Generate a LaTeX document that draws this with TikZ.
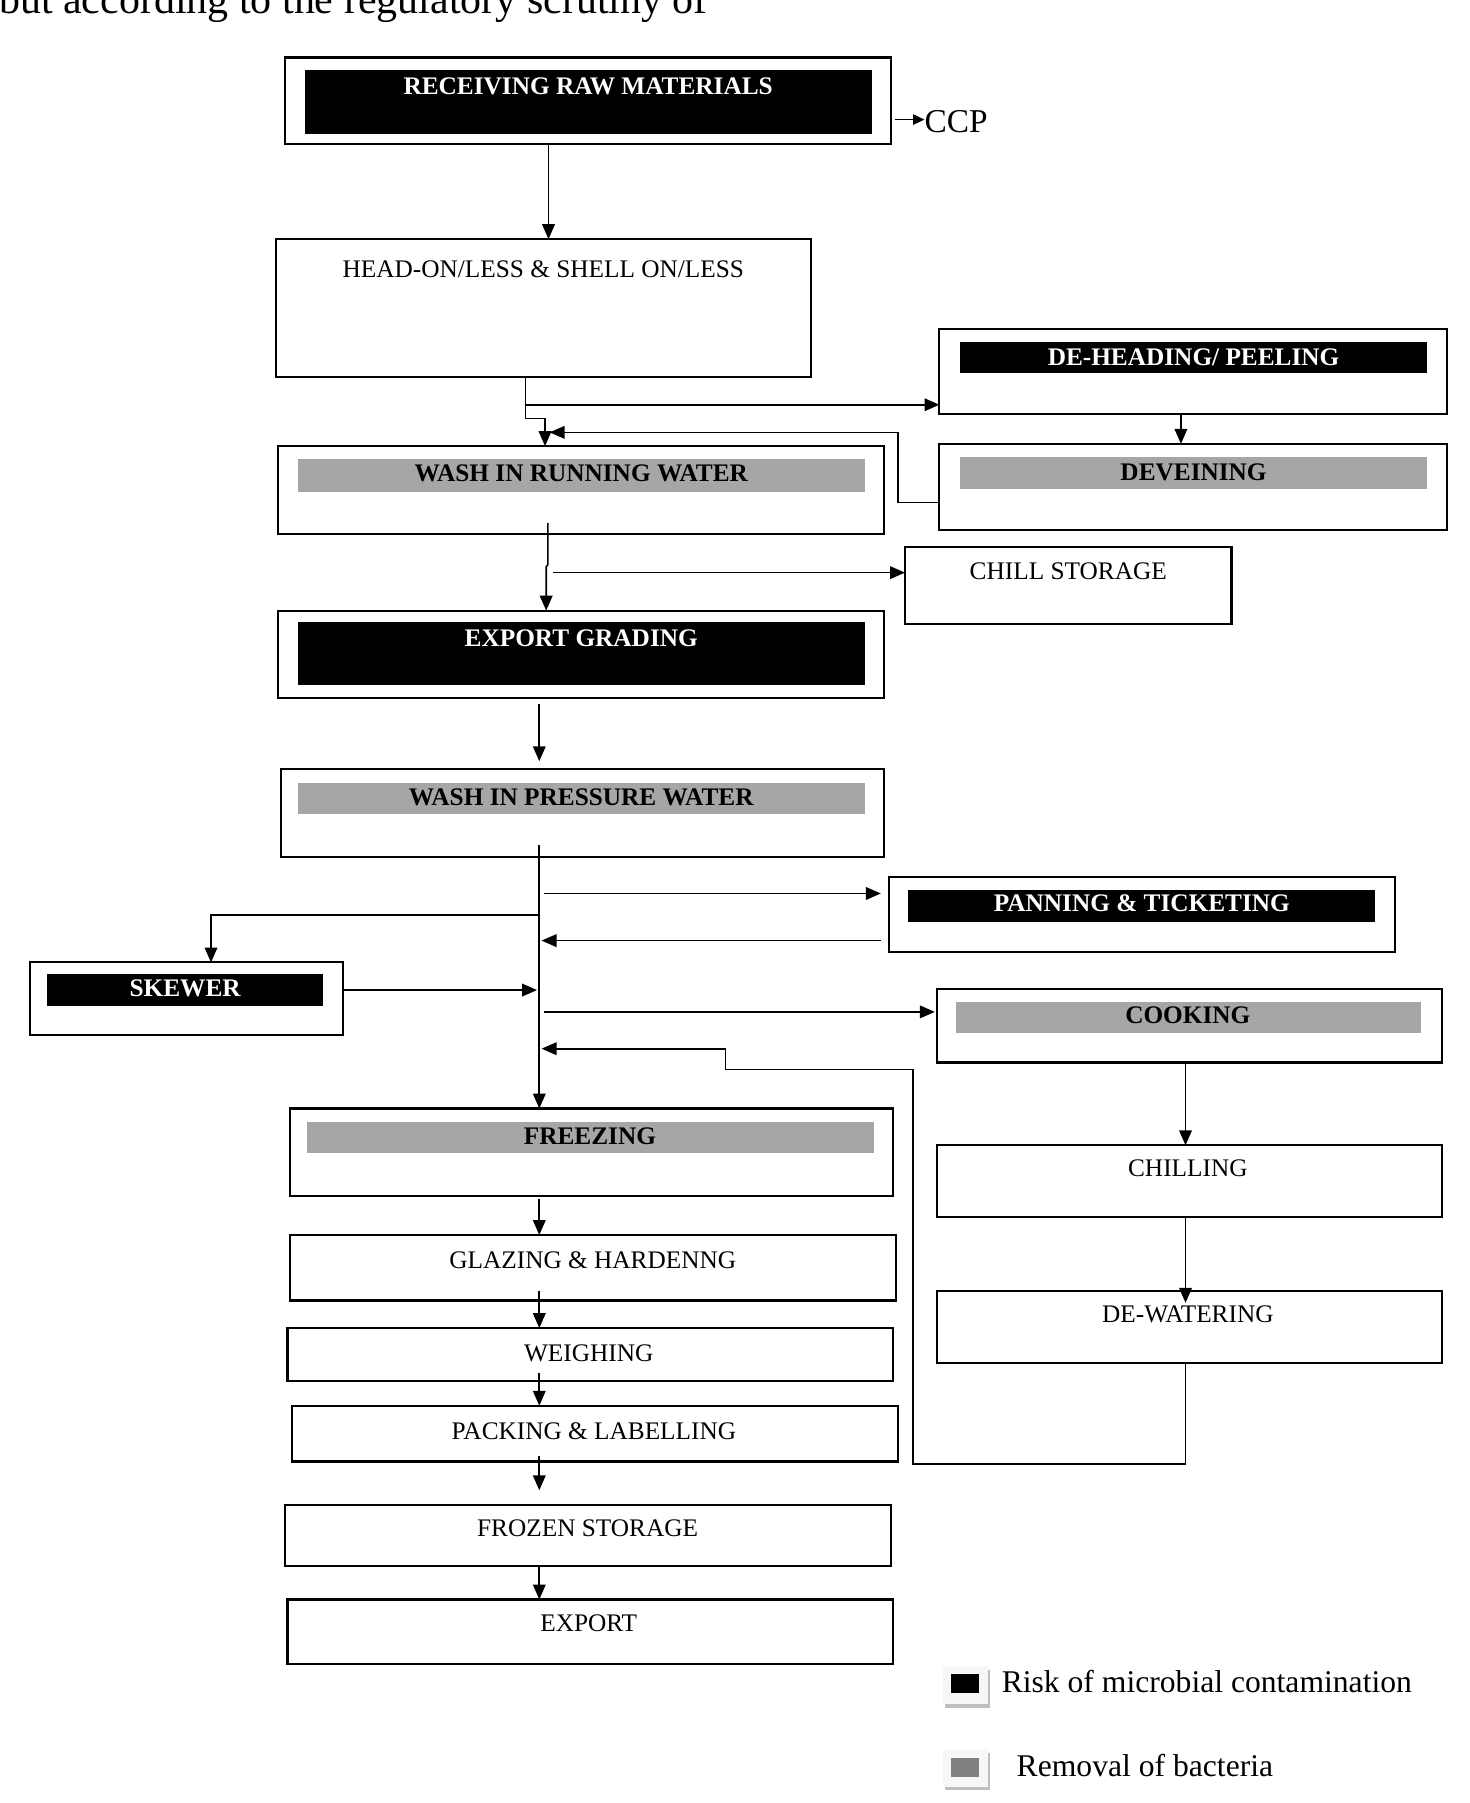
\documentclass[tikz,border=0pt]{standalone}
\usepackage{fontspec}
\setmainfont{Liberation Serif}
\usetikzlibrary{arrows.meta,calc}
\definecolor{bandg}{RGB}{166,166,166}
\definecolor{leggray}{RGB}{128,128,128}
\newcommand{\lblfont}{\fontsize{22}{26}\selectfont}
\newcommand{\procnode}[6]{%
  \pgfmathsetmacro{\pncx}{(#2+#4)/2}%
  \pgfmathsetmacro{\pncy}{(#3+#5)/2}%
  \pgfmathsetmacro{\pnw}{#4-#2}%
  \pgfmathsetmacro{\pnh}{#5-#3}%
  \node[#6, minimum width=\pnw pt, minimum height=\pnh pt] (#1) at (\pncx,\pncy) {};}
\tikzset{
  procbox/.style={rectangle, draw=black, line width=1.8pt, fill=white, inner sep=0pt, outer sep=0pt},
  bandk/.style={rectangle, fill=black, inner sep=0pt, outer sep=0pt},
  bandgr/.style={rectangle, fill=bandg, inner sep=0pt, outer sep=0pt},
  legshadow/.style={rectangle, fill=gray!50, inner sep=0pt, outer sep=0pt},
  legframe/.style={rectangle, fill=gray!6, inner sep=0pt, outer sep=0pt},
  legk/.style={rectangle, fill=black, inner sep=0pt, outer sep=0pt},
  legg/.style={rectangle, fill=leggray, inner sep=0pt, outer sep=0pt},
  lblw/.style={font=\lblfont\bfseries, text=white, inner sep=0pt, anchor=base},
  lblb/.style={font=\lblfont\bfseries, text=black, inner sep=0pt, anchor=base},
  lbln/.style={font=\lblfont, text=black, inner sep=0pt, anchor=base},
  arr/.style={line width=1.4pt, -{Triangle[length=13pt,width=11pt]}},
  smallarr/.style={line width=1.4pt, -{Triangle[length=10pt,width=9pt]}},
}
\begin{document}
\begin{tikzpicture}[x=1pt,y=-1pt]
\useasboundingbox (0,0) rectangle (1278,1568);

% page text fragment at the top (cut by the page edge, as in the source)
\node[anchor=base west, font=\fontsize{36.5}{40}\selectfont, inner sep=0pt] (toptxt) at (-1,12) {but according to the regulatory scrutiny of};

% ---------- boxes ----------
\procnode{rrm}{248}{50}{775}{125}{procbox}
\procnode{rrmband}{265}{61}{758}{116.5}{bandk}
\node[lblw] (rrmtxt) at (511.5,82) {RECEIVING RAW MATERIALS};
\node[anchor=base west, font=\fontsize{29}{34}\selectfont, inner sep=0pt] (ccp) at (804,115) {CCP};

\procnode{head}{240}{208}{705}{328}{procbox}
\node[lbln] (headtxt) at (472.5,241) {HEAD-ON/LESS \& SHELL ON/LESS};

\procnode{dehead}{817}{286}{1258}{360}{procbox}
\procnode{deheadband}{835}{297}{1241}{324}{bandk}
\node[lblw] (deheadtxt) at (1038,317.5) {DE-HEADING/ PEELING};

\procnode{devein}{817}{386}{1258}{461}{procbox}
\procnode{deveinband}{835}{397}{1241}{425}{bandgr}
\node[lblb] (deveintxt) at (1038,417.5) {DEVEINING};

\procnode{washr}{242}{388}{769}{464}{procbox}
\procnode{washrband}{259}{399}{752}{428}{bandgr}
\node[lblb] (washrtxt) at (505.5,419) {WASH IN RUNNING WATER};

\procnode{chill}{787}{476}{1071}{543}{procbox}
\node[lbln] (chilltxt) at (929,504) {CHILL STORAGE};

\procnode{grade}{242}{531}{769}{607}{procbox}
\procnode{gradeband}{259}{540.5}{752}{595.5}{bandk}
\node[lblw] (gradetxt) at (505.5,562) {EXPORT GRADING};

\procnode{wpress}{244}{669}{769}{745}{procbox}
\procnode{wpressband}{259}{681}{752}{708}{bandgr}
\node[lblb] (wpresstxt) at (505.5,700.5) {WASH IN PRESSURE WATER};

\procnode{pan}{773}{763}{1213}{828}{procbox}
\procnode{panband}{790}{774}{1196}{802}{bandk}
\node[lblw] (pantxt) at (993,792.5) {PANNING \& TICKETING};

\procnode{skew}{26}{837}{298}{900}{procbox}
\procnode{skewband}{41}{847}{281}{875}{bandk}
\node[lblw] (skewtxt) at (161,866.5) {SKEWER};

\procnode{cook}{815}{860}{1254}{924}{procbox}
\procnode{cookband}{831}{871}{1236}{898}{bandgr}
\node[lblb] (cooktxt) at (1033,890.5) {COOKING};

\procnode{freeze}{252}{964}{777}{1040}{procbox}
\procnode{freezeband}{267}{975.5}{760}{1003}{bandgr}
\node[lblb] (freezetxt) at (513,995) {FREEZING};

\procnode{chilling}{815}{996}{1254}{1058}{procbox}
\node[lbln] (chillingtxt) at (1033,1023) {CHILLING};

\procnode{glaze}{252}{1074}{779}{1131}{procbox}
\node[lbln] (glazetxt) at (515.5,1103.5) {GLAZING \& HARDENNG};

\procnode{dewater}{815}{1123}{1254}{1185}{procbox}
\node[lbln] (dewatertxt) at (1033,1150) {DE-WATERING};

\procnode{weigh}{250}{1155}{777}{1201}{procbox}
\node[lbln] (weightxt) at (512,1184) {WEIGHING};

\procnode{pack}{254}{1222.5}{781}{1271}{procbox}
\node[lbln] (packtxt) at (516.5,1252) {PACKING \& LABELLING};

\procnode{frozen}{248}{1309}{775}{1361.5}{procbox}
\node[lbln] (frozentxt) at (511,1336) {FROZEN STORAGE};

\procnode{exportf}{250}{1391}{777}{1447.5}{procbox}
\node[lbln] (exportftxt) at (512,1418.5) {EXPORT};

% ---------- guide coordinates ----------
\coordinate (xa) at (477,0);
\coordinate (xb) at (457,0);
\coordinate (xc) at (474,0);
\coordinate (xd) at (1027,0);
\coordinate (xe) at (475,0);
\coordinate (xm) at (469,0);
\coordinate (xs) at (183.5,0);
\coordinate (xr) at (1031,0);
\coordinate (yC) at (0,104);
\coordinate (yDev) at (0,437);
\coordinate (jA) at (457,352);
\coordinate (jB) at (478,376);
\coordinate (jC) at (476.5,455);
\coordinate (jD) at (481,498);
\coordinate (jE) at (469,735);
\coordinate (jF) at (473,777);
\coordinate (jG) at (471,818);
\coordinate (jH) at (469,795.5);
\coordinate (jI) at (467,861);
\coordinate (jJ) at (473,880);
\coordinate (jK) at (471,912);

% ---------- connectors ----------
\draw[smallarr, shorten <=3pt] (rrm.east |- yC) -- (ccp.west |- yC);
\draw[arr] (rrm.south -| xa) -- (head.north -| xa);
\draw[arr] (head.south -| xb) -- (457,364) -- (474,364) -- (washr.north -| xc);
\draw[arr] (jA) -- (dehead.west |- jA);
\draw[arr] (dehead.south -| xd) -- (devein.north -| xd);
\draw[arr] (devein.west |- yDev) -- (781,437) -- (781,376) -- (jB);
\draw[arr] (jC) -- (476.5,491) -- (475,493) -- (grade.north -| xe);
\draw[arr] (jD) -- (chill.west |- jD);
\draw[arr, shorten <=5pt, shorten >=7pt] (grade.south -| xm) -- (wpress.north -| xm);
\draw[arr] (jE) -- (freeze.north -| xm);
\draw[arr, shorten >=7pt] (jF) -- (pan.west |- jF);
\draw[arr, shorten <=7pt] (pan.west |- jG) -- (jG);
\draw[arr] (jH) -- (183.5,795.5) -- (skew.north -| xs);
\draw[arr] (skew.east |- jI) -- (jI);
\draw[arr, shorten >=2pt] (jJ) -- (cook.west |- jJ);
\draw[arr] (dewater.south -| xr) -- (1031,1273) -- (794,1273) -- (794,930) -- (631,930) -- (631,912) -- (jK);
\draw[arr] (cook.south -| xr) -- (chilling.north -| xr);
\draw[arr, shorten >=-10pt] (chilling.south -| xr) -- (dewater.north -| xr);
\draw[arr, shorten <=3pt] (freeze.south -| xm) -- (glaze.north -| xm);
\draw[arr, shorten <=-8pt] (glaze.south -| xm) -- (weigh.north -| xm);
\draw[arr, shorten <=-7pt] (weigh.south -| xm) -- (pack.north -| xm);
\draw[arr, shorten <=-4.5pt, shorten >=13pt] (pack.south -| xm) -- (frozen.north -| xm);
\draw[arr] (frozen.south -| xm) -- (exportf.north -| xm);

% ---------- legend ----------
\procnode{leg1shadow}{822}{1452}{861}{1485}{legshadow}
\procnode{leg1frame}{820}{1449}{859}{1482}{legframe}
\procnode{leg1sq}{827}{1456}{851}{1472}{legk}
\node[anchor=base west, font=\fontsize{27.5}{32}\selectfont, inner sep=0pt] (leg1txt) at (871,1472) {Risk of microbial contamination};

\procnode{leg2shadow}{822}{1524.5}{861}{1557}{legshadow}
\procnode{leg2frame}{820}{1521.5}{859}{1554}{legframe}
\procnode{leg2sq}{827}{1529}{851}{1545}{legg}
\node[anchor=base west, font=\fontsize{27.5}{32}\selectfont, inner sep=0pt] (leg2txt) at (884,1545) {Removal of bacteria};
\end{tikzpicture}
\end{document}
